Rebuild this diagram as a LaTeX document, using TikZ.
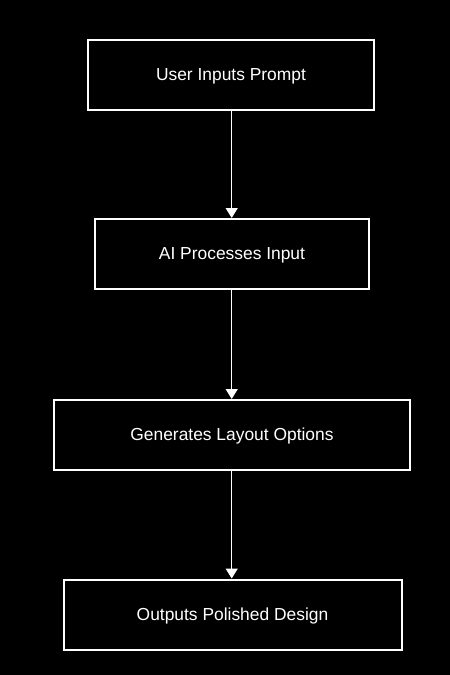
\documentclass[tikz,border=0pt]{standalone}
\usepackage{fontspec}
\setmainfont{Liberation Sans}
\usetikzlibrary{arrows.meta}
\begin{document}
\begin{tikzpicture}[x=1pt,y=1pt,
  stepbox/.style={draw=white, line width=2pt, fill=black, text=white,
    font=\fontsize{17.4}{20}\selectfont, inner sep=0pt, minimum height=70pt,
    text depth=0pt, text height=11pt},
  flow/.style={draw=white, line width=1.3pt,
    -{Triangle[width=12pt,length=10pt,fill=white]}}]
\fill[black] (0,0) rectangle (450,-675);
\useasboundingbox (0,0) rectangle (450,-675);
\node[stepbox, minimum width=286pt] (a) at (231,-75) {User Inputs Prompt};
\node[stepbox, minimum width=274pt] (b) at (232,-254) {AI Processes Input};
\node[stepbox, minimum width=356pt] (c) at (232,-435) {Generates Layout Options};
\node[stepbox, minimum width=338pt] (d) at (232.5,-614.5) {Outputs Polished Design};
\draw[flow] (a.south -| 231.7,0) -- (b.north -| 231.7,0);
\draw[flow] (b.south -| 231.7,0) -- (c.north -| 231.7,0);
\draw[flow] (c.south -| 231.7,0) -- (d.north -| 231.7,0);
\end{tikzpicture}
\end{document}
